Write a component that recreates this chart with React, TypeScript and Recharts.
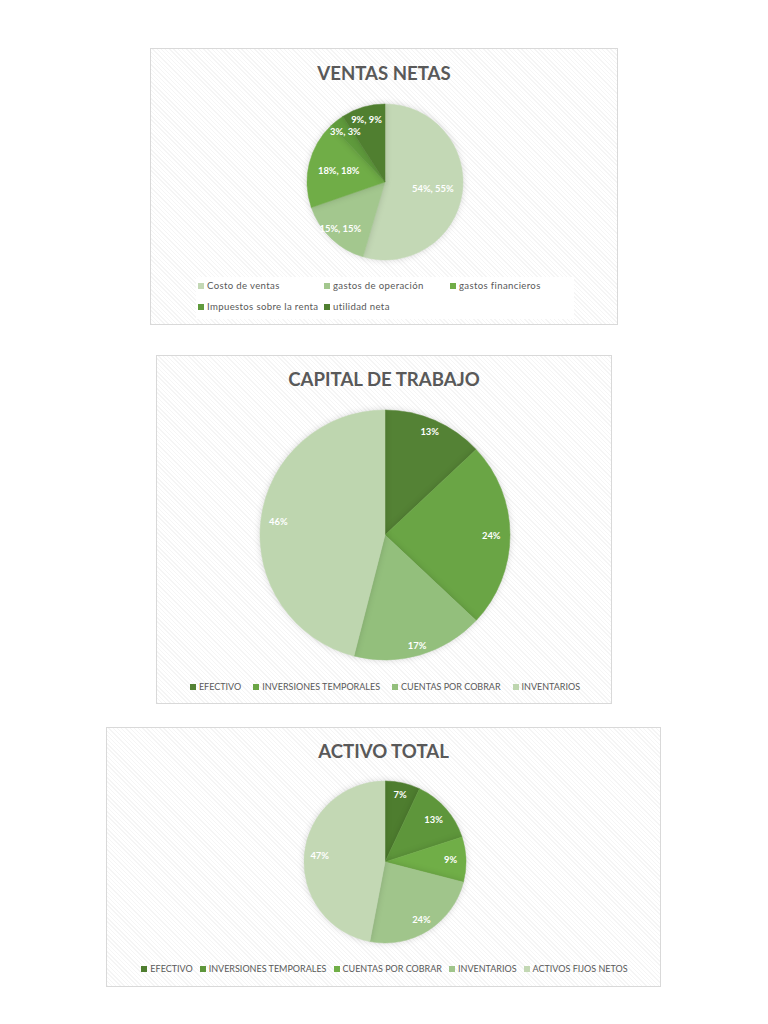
import React from "react";
import { PieChart, Pie, Cell, Legend } from "recharts";

const ventasNames = ["Costo de ventas", "gastos de operación", "gastos financieros", "Impuestos sobre la renta", "utilidad neta"];
const ventasValues = [0.54, 0.15, 0.18, 0.03, 0.09];

const capitalNames = ["EFECTIVO", "INVERSIONES TEMPORALES", "CUENTAS POR COBRAR", "INVENTARIOS"];
const capitalValues = [13, 24, 17, 46];

const activoNames = ["EFECTIVO", "INVERSIONES TEMPORALES", "CUENTAS POR COBRAR", "INVENTARIOS", "ACTIVOS FIJOS NETOS"];
const activoValues = [7, 13, 9, 24, 47];

const ventasColors = ["#c3d8b5", "#a3c78e", "#70ad47", "#5f9a3c", "#507f30"];
const capitalColors = ["#548235", "#6aa545", "#93bf7c", "#bed6af"];
const activoColors = ["#4e7d2f", "#5e963b", "#70ae47", "#a0c58b", "#c3d8b4"];

const ventasLabelR = [0.62, 0.83, 0.61, 0.82, 0.84];
const capitalLabelR = [0.9, 0.85, 0.92, 0.86];
const activoLabelR = [0.85, 0.8, 0.81, 0.84, 0.81];

const FONT = "Lato, 'Open Sans', sans-serif";
const RAD = Math.PI / 180;

const build = (names: string[], values: number[]) => names.map((n, i) => ({ name: n, value: values[i] }));

const makeLabel = (factors: number[], fmt: (v: number, p: number) => string) => (props: any) => {
  const { cx, cy, midAngle, outerRadius, percent, value, index } = props;
  const r = outerRadius * factors[index];
  const x = cx + r * Math.cos(-midAngle * RAD);
  const y = cy + r * Math.sin(-midAngle * RAD);
  return (
    <text x={x} y={y} fill="#ffffff" fontSize={9.4} fontWeight={700} fontFamily={FONT} textAnchor="middle" dominantBaseline="central">
      {fmt(value, percent)}
    </text>
  );
};

const legendContent = (names: string[], colors: string[], opts: { cols?: number; gap?: number; fontSize?: number; spacing?: number }) => () => (
  <div
    style={
      opts.cols
        ? { display: "grid", gridTemplateColumns: `repeat(${opts.cols}, 126px)`, rowGap: 9, justifyContent: "start" }
        : { display: "flex", justifyContent: "center", columnGap: opts.gap ?? 14 }
    }
  >
    {names.map((n, i) => (
      <div
        key={i}
        style={{
          display: "flex",
          alignItems: "center",
          fontFamily: FONT,
          fontSize: opts.fontSize ?? 9,
          letterSpacing: opts.spacing ?? 0,
          color: "#595959",
          whiteSpace: "nowrap",
          lineHeight: "12px",
        }}
      >
        <span style={{ display: "inline-block", width: 6, height: 6, background: colors[i], marginRight: 3 }} />
        {n}
      </div>
    ))}
  </div>
);

const boxStyle = (left: number, top: number, width: number, height: number): React.CSSProperties => ({
  position: "absolute",
  left,
  top,
  width,
  height,
  boxSizing: "border-box",
  border: "1px solid #d9d9d9",
  background: "repeating-linear-gradient(45deg, #f5f5f5 0px, #f5f5f5 1px, #ffffff 1px, #ffffff 3px)",
  overflow: "hidden",
});

const titleStyle = (top: number): React.CSSProperties => ({
  position: "absolute",
  left: 0,
  right: 0,
  top,
  textAlign: "center",
  fontFamily: FONT,
  fontWeight: 700,
  fontSize: 18.6,
  color: "#595959",
  lineHeight: "22px",
});

type ChartProps = {
  left: number;
  top: number;
  width: number;
  height: number;
  title: string;
  titleTop: number;
  data: { name: string; value: number }[];
  colors: string[];
  cx: number;
  cy: number;
  r: number;
  label: any;
  legend: any;
  legendStyle: React.CSSProperties;
  legendBg?: React.CSSProperties;
};

function ChartBox(p: ChartProps) {
  return (
    <div style={boxStyle(p.left, p.top, p.width, p.height)}>
      {p.legendBg ? <div style={p.legendBg} /> : null}
      <div style={titleStyle(p.titleTop)}>{p.title}</div>
      <div style={{ position: "absolute", left: 0, top: 0 }}>
        <PieChart width={p.width} height={p.height} margin={{ top: 0, right: 0, bottom: 0, left: 0 }}>
          <Pie
            data={p.data}
            dataKey="value"
            nameKey="name"
            cx={p.cx}
            cy={p.cy}
            outerRadius={p.r}
            startAngle={90}
            endAngle={-270}
            isAnimationActive={false}
            labelLine={false}
            label={p.label}
            stroke="none"
          >
            {p.data.map((d, i) => (
              <Cell key={d.name} fill={p.colors[i]} stroke={p.colors[i]} strokeWidth={0.5} />
            ))}
          </Pie>
          <Legend content={p.legend} wrapperStyle={p.legendStyle} />
        </PieChart>
      </div>
    </div>
  );
}

export default function App() {
  return (
    <div style={{ position: "absolute", left: 0, top: 0, width: 768, height: 1024, background: "#ffffff" }}>
      <style>{`.recharts-sector { filter: drop-shadow(0px 0px 3px rgba(0,0,0,0.15)); }`}</style>
      <ChartBox
        left={150}
        top={48}
        width={468}
        height={277}
        title="VENTAS NETAS"
        titleTop={13}
        data={build(ventasNames, ventasValues)}
        colors={ventasColors}
        cx={234}
        cy={133}
        r={78}
        label={makeLabel(ventasLabelR, (v, p) => `${Math.round(v * 100)}%, ${Math.round(p * 100)}%`)}
        legend={legendContent(ventasNames, ventasColors, { cols: 3, fontSize: 9.6, spacing: 0.35 })}
        legendStyle={{ position: "absolute", left: 47, top: 231, width: 390 }}
        legendBg={{ position: "absolute", left: 45, top: 228, width: 378, height: 42, background: "#ffffff" }}
      />
      <ChartBox
        left={156}
        top={355}
        width={456}
        height={349}
        title="CAPITAL DE TRABAJO"
        titleTop={12}
        data={build(capitalNames, capitalValues)}
        colors={capitalColors}
        cx={228}
        cy={179}
        r={125}
        label={makeLabel(capitalLabelR, (v, p) => `${Math.round(p * 100)}%`)}
        legend={legendContent(capitalNames, capitalColors, { gap: 12 })}
        legendStyle={{ position: "absolute", left: 0, top: 325, width: 456 }}
      />
      <ChartBox
        left={106}
        top={727}
        width={555}
        height={260}
        title="ACTIVO TOTAL"
        titleTop={12}
        data={build(activoNames, activoValues)}
        colors={activoColors}
        cx={278}
        cy={134}
        r={81}
        label={makeLabel(activoLabelR, (v, p) => `${Math.round(p * 100)}%`)}
        legend={legendContent(activoNames, activoColors, { gap: 7 })}
        legendStyle={{ position: "absolute", left: 0, top: 235, width: 555 }}
      />
    </div>
  );
}
